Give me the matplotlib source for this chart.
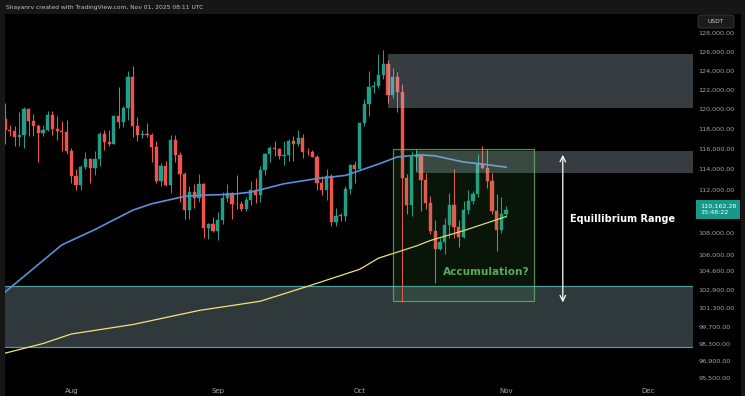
#!/usr/bin/env python3
"""
BTC/USDT daily chart (TradingView style) with equilibrium range and accumulation box.
"""

import numpy as np
import pandas as pd
import matplotlib
matplotlib.use('Agg')
import matplotlib.pyplot as plt
import matplotlib.dates as mdates
from matplotlib.patches import Rectangle, FancyBboxPatch

# ---------------- data (prices in thousand USDT) ----------------
dates = pd.date_range('2025-07-18', '2025-11-01', freq='D')

opens = (
    # Jul 18-31
    [119.0, 117.9, 117.8, 117.2, 117.4, 119.95, 118.75, 118.3, 117.6, 117.9, 119.4, 118.0, 117.8, 117.7]
    # Aug
    + [115.8, 113.3, 112.5, 114.2, 115.0, 114.1, 115.0, 117.5, 116.7, 116.5, 119.3, 118.7, 120.1, 123.3, 118.3,
       117.4, 117.5, 117.4, 116.2, 112.9, 114.3, 112.5, 116.9, 115.4, 113.5, 110.1, 111.8, 111.2, 112.6, 108.4, 108.8]
    # Sep
    + [108.2, 109.2, 111.2, 111.7, 110.7, 110.65, 110.2, 111.1, 112.0, 111.5, 113.9, 115.5, 116.1, 115.95, 115.3,
       115.4, 116.8, 116.45, 117.1, 115.7, 115.7, 115.2, 112.7, 112.0, 113.3, 109.0, 109.6, 109.6, 112.1, 114.4]
    # Oct
    + [114.05, 118.59, 120.53, 122.23, 122.39, 123.48, 124.66, 121.4, 123.3, 121.7, 113.2, 110.6, 115.2, 115.3, 113.0,
       110.8, 108.2, 106.5, 107.2, 108.7, 110.6, 108.5, 107.6, 110.1, 111.0, 111.6, 114.5, 114.1, 112.9, 110.05, 108.3]
    # Nov 1
    + [109.7]
)
highs = (
    [120.6, 118.4, 118.3, 119.7, 120.2, 120.1, 119.5, 118.5, 118.4, 119.8, 119.8, 119.3, 118.8, 118.9]
    + [116.1, 114.0, 114.4, 115.7, 115.1, 115.8, 117.7, 117.9, 117.9, 119.4, 122.3, 120.3, 123.9, 124.5, 119.2,
       117.9, 118.6, 117.6, 116.8, 114.6, 114.8, 117.4, 117.4, 115.7, 113.7, 112.4, 112.6, 113.5, 112.7, 108.9, 109.5]
    + [109.9, 111.8, 112.6, 111.8, 113.4, 111.0, 111.3, 112.9, 113.2, 114.3, 115.6, 116.3, 116.8, 116.1, 116.8,
       117.0, 117.3, 117.9, 117.5, 116.1, 115.9, 115.4, 113.3, 114.0, 113.5, 110.3, 109.8, 112.4, 114.5, 114.8]
    + [118.65, 121.0, 123.9, 122.9, 125.7, 126.2, 125.1, 124.2, 123.8, 122.55, 113.5, 115.8, 116.0, 115.5, 113.6,
       111.4, 109.2, 107.5, 109.4, 111.7, 114.0, 109.2, 111.0, 112.0, 111.9, 115.5, 116.3, 116.0, 113.6, 111.6, 111.3]
    + [110.5]
)
lows = (
    [116.5, 117.3, 116.3, 116.3, 116.1, 117.3, 117.3, 114.7, 117.3, 117.8, 117.4, 116.9, 115.8, 115.5]
    + [112.7, 112.0, 112.0, 114.0, 112.65, 113.4, 114.3, 115.9, 116.3, 116.5, 118.1, 118.2, 118.9, 117.2, 116.8,
       117.1, 117.2, 114.7, 112.7, 112.4, 112.4, 111.7, 114.7, 110.9, 109.3, 109.3, 110.3, 110.9, 107.5, 107.4, 108.1]
    + [107.3, 108.8, 110.9, 109.3, 110.2, 110.0, 110.0, 110.6, 110.8, 110.9, 113.4, 114.75, 115.3, 115.0, 114.4,
       114.8, 114.8, 116.3, 115.1, 115.4, 115.2, 112.0, 111.5, 111.1, 108.6, 108.6, 109.1, 109.1, 111.6, 112.7]
    + [113.97, 118.3, 119.3, 121.6, 122.2, 123.1, 120.6, 121.1, 119.65, 101.8, 109.7, 109.6, 113.8, 110.0, 110.2,
       107.9, 103.5, 106.4, 106.1, 107.5, 107.5, 106.7, 107.5, 109.7, 110.7, 111.3, 114.0, 112.2, 109.7, 106.3, 108.0]
    + [109.5]
)
closes = (
    [117.9, 117.8, 117.2, 117.4, 119.95, 118.75, 118.3, 117.6, 117.9, 119.4, 118.0, 117.8, 117.7, 115.8]
    + [113.3, 112.5, 114.2, 115.0, 114.1, 115.0, 117.5, 116.7, 116.5, 119.3, 118.7, 120.1, 123.3, 118.3, 117.4,
       117.5, 117.4, 116.2, 112.9, 114.3, 112.5, 116.9, 115.4, 113.5, 110.1, 111.8, 111.2, 112.6, 108.4, 108.8, 108.2]
    + [109.2, 111.2, 111.7, 110.7, 110.65, 110.2, 111.1, 112.0, 111.5, 113.9, 115.5, 116.1, 115.95, 115.3, 115.4,
       116.8, 116.45, 117.1, 115.7, 115.65, 115.2, 112.7, 112.0, 113.3, 109.0, 109.6, 109.55, 112.1, 114.4, 114.05]
    + [118.59, 120.53, 122.23, 122.39, 123.48, 124.66, 121.4, 123.3, 121.7, 113.2, 110.6, 115.2, 115.3, 113.0, 110.8,
       108.2, 106.5, 107.2, 108.7, 110.6, 108.5, 107.6, 110.1, 111.0, 111.6, 114.5, 114.1, 112.9, 110.05, 108.3, 109.7]
    + [110.16228]
)

# moving averages (date, thousand USDT)
ma100_dates = ['2025-07-18', '2025-07-30', '2025-08-01', '2025-08-06', '2025-08-14', '2025-08-18', '2025-08-25',
               '2025-08-28', '2025-09-04', '2025-09-08', '2025-09-15', '2025-09-22', '2025-09-28', '2025-10-05',
               '2025-10-09', '2025-10-14', '2025-10-17', '2025-10-23', '2025-10-27', '2025-11-01']
ma100_vals = [102.7, 106.9, 107.3, 108.3, 110.1, 110.7, 111.4, 111.5, 111.6, 111.8, 112.6, 113.1, 113.4, 114.5,
              115.2, 115.4, 115.3, 114.7, 114.5, 114.2]
ma200_dates = ['2025-07-18', '2025-07-26', '2025-08-01', '2025-08-14', '2025-08-28', '2025-09-10', '2025-09-20',
               '2025-10-01', '2025-10-05', '2025-10-13', '2025-10-16', '2025-10-23', '2025-11-01']
ma200_vals = [97.5, 98.3, 99.1, 99.9, 101.1, 101.9, 103.2, 104.7, 105.7, 106.8, 107.3, 108.2, 109.5]

# zones: (start, end, low, high) in thousand USDT
supply_zone = ('2025-10-07', '2025-12-12', 120.1, 125.7)
range_top_zone = ('2025-10-13', '2025-12-12', 113.6, 115.8)
range_bottom_zone = ('2025-07-10', '2025-12-12', 98.0, 103.2)
accum_box = ('2025-10-08', '2025-11-07', 101.9, 116.0)
arrow_date = '2025-11-13'
arrow_span = (101.8, 115.4)

price_ticks = [128000, 126000, 124000, 122000, 120000, 118000, 116000, 114000, 112000,
               108000, 106000, 104600, 102900, 101300, 99700, 98300, 96900, 95500]
month_ticks = ['2025-08-01', '2025-09-01', '2025-10-01', '2025-11-01', '2025-12-01']
month_labels = ['Aug', 'Sep', 'Oct', 'Nov', 'Dec']
last_price = 110162.28
last_time = '15:48:22'

# ---------------- style ----------------
UP = '#1f9e89'
DOWN = '#ef5350'
W, H = 745, 396

fig = plt.figure(figsize=(W / 100, H / 100), dpi=100, facecolor='#161616')
# black chart canvas
fig.patches.append(Rectangle((5 / W, 0), 736 / W, (H - 14) / H, transform=fig.transFigure,
                             facecolor='black', edgecolor='none', zorder=-1))

ax = fig.add_axes([5 / W, (H - 380) / H, 688 / W, 366 / H])
ax.set_zorder(1)
ax.set_facecolor('none')
ax.set_yscale('log')

x = mdates.date2num(dates)
o = np.array(opens) * 1000
h = np.array(highs) * 1000
l = np.array(lows) * 1000
c = np.array(closes) * 1000
cols = np.where(c >= o, UP, DOWN)

ax.vlines(x, l, h, colors=cols, linewidth=0.75, zorder=2)
ax.bar(x, np.maximum(np.abs(c - o), 60), bottom=np.minimum(o, c), width=0.68,
       color=cols, edgecolor=cols, linewidth=0.3, zorder=2.1)

ax.plot(mdates.date2num(pd.to_datetime(ma100_dates)), np.array(ma100_vals) * 1000,
        color='#5b8fd9', linewidth=1.2, zorder=3)
ax.plot(mdates.date2num(pd.to_datetime(ma200_dates)), np.array(ma200_vals) * 1000,
        color='#f2e27a', linewidth=0.9, zorder=3)


def zone(spec, **kw):
    x0, x1 = mdates.date2num(pd.to_datetime(spec[0])), mdates.date2num(pd.to_datetime(spec[1]))
    ax.add_patch(Rectangle((x0, spec[2] * 1000), x1 - x0, (spec[3] - spec[2]) * 1000, **kw))


zone(range_bottom_zone, facecolor=(0.56, 0.69, 0.72, 0.33), edgecolor='#4e9c99', linewidth=0.9, zorder=1)
zone(supply_zone, facecolor=(0.72, 0.78, 0.85, 0.30), edgecolor='none', zorder=4)
zone(range_top_zone, facecolor=(0.72, 0.78, 0.85, 0.30), edgecolor='none', zorder=4)
zone(accum_box, facecolor=(0.30, 0.69, 0.31, 0.12), edgecolor=(0.40, 0.73, 0.42, 0.75), linewidth=0.9, zorder=4.5)

ax_x = mdates.date2num(pd.to_datetime(arrow_date))
ax.annotate('', xy=(ax_x, arrow_span[1] * 1000), xytext=(ax_x, arrow_span[0] * 1000),
            arrowprops=dict(arrowstyle='<->', color='white', lw=0.9, mutation_scale=10,
                            shrinkA=0, shrinkB=0), zorder=6)
ax.text(mdates.date2num(pd.to_datetime('2025-11-25')) + 0.7, 109300, 'Equillibrium Range',
        color='white', fontsize=7, fontweight='bold', ha='center', va='center', zorder=6)
ax.text(mdates.date2num(pd.to_datetime('2025-10-27')) + 0.7, 104500, 'Accumulation?',
        color='#55ac58', fontsize=7.6, fontweight='bold', ha='center', va='center', zorder=6)

# axes limits / ticks
aug1 = mdates.date2num(pd.to_datetime('2025-08-01'))
ax.set_xlim(aug1 - 14.03, aug1 + 131.55)
ax.set_ylim(95300, 130080)
for s in ax.spines.values():
    s.set_visible(False)

ax.yaxis.tick_right()
ax.set_yticks(price_ticks)
ax.set_yticklabels([f'{v:,.2f}' for v in price_ticks])
ax.yaxis.set_minor_locator(plt.NullLocator())
ax.tick_params(axis='y', length=0, pad=4, labelsize=4.6, labelcolor='#a3a6ae')
ax.set_xticks(mdates.date2num(pd.to_datetime(month_ticks)))
ax.set_xticklabels(month_labels)
ax.tick_params(axis='x', length=0, pad=6, labelsize=5, labelcolor='#a3a6ae')
ax.grid(False)

# last price badge
ax.annotate(f'{last_price:,.2f}\n{last_time}', xy=(1.0, last_price), xytext=(5, 0),
            textcoords='offset points', xycoords=ax.get_yaxis_transform(), ha='left', va='center',
            fontsize=4.6, color='white', linespacing=1.15, annotation_clip=False, zorder=7,
            bbox=dict(boxstyle='square,pad=0.6', facecolor='#16998a', edgecolor='none'))

# header + currency tag
fig.text(6 / W, 1 - 8 / H, 'Shayanrv created with TradingView.com, Nov 01, 2025 08:11 UTC',
         fontsize=4.3, color='#c4c4c4', ha='left', va='center')
fig.patches.append(FancyBboxPatch((698 / W, 1 - 28 / H), 36 / W, 13 / H, transform=fig.transFigure,
                                  boxstyle='round,pad=0,rounding_size=0.004', facecolor='#1b1b1b',
                                  edgecolor='#3c3c3c', linewidth=0.6, zorder=2))
fig.text(716 / W, 1 - 21.5 / H, 'USDT', fontsize=4.3, color='#d0d0d0', ha='center', va='center', zorder=3)

plt.savefig('out.png', dpi=100, facecolor=fig.get_facecolor())
